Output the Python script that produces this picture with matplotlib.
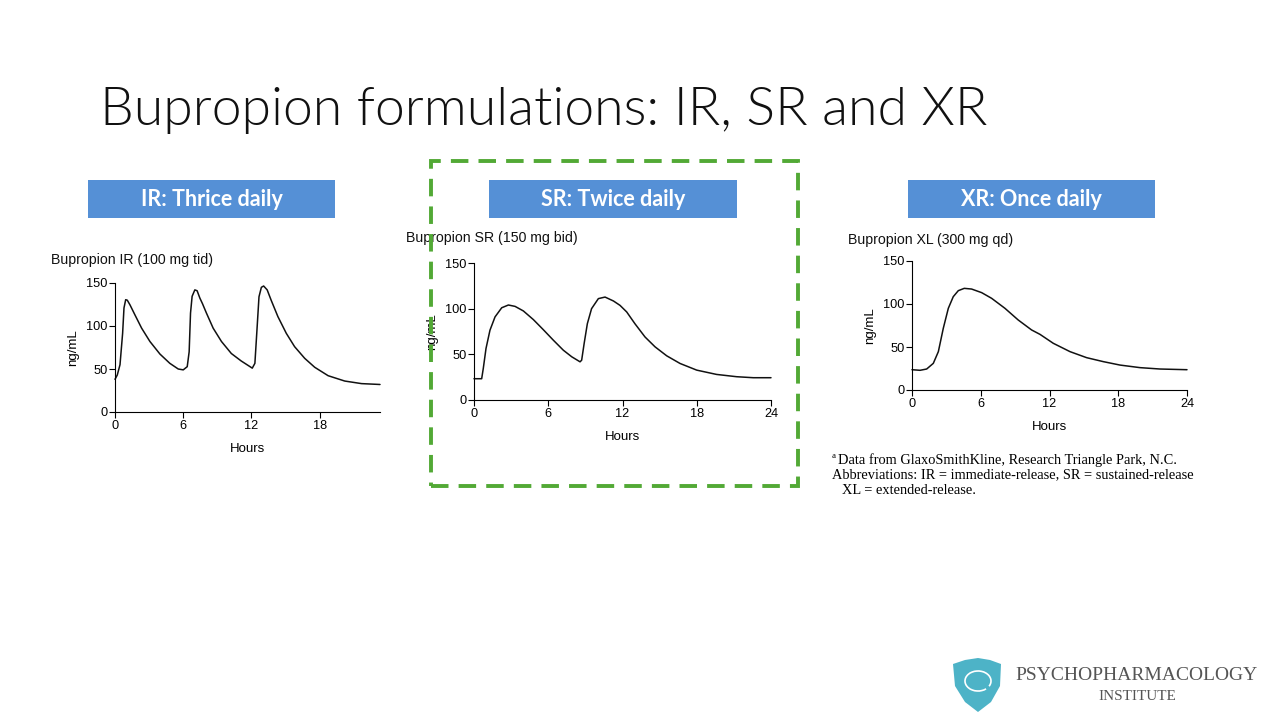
import matplotlib
matplotlib.use("Agg")
import matplotlib.pyplot as plt
from matplotlib.patches import Rectangle, Polygon, Arc

# Curvas de concentración (horas, ng/mL)
ir_hours = [0, 0.2, 0.44, 0.67, 0.79, 0.94, 1.08, 1.32, 1.75, 2.34, 3.07, 3.95, 4.82, 5.56,
            6.0, 6.35, 6.52, 6.64, 6.78, 7.02, 7.22, 7.46, 7.69, 8.04, 8.63, 9.36, 10.23,
            11.1, 11.78, 12.07, 12.3, 12.48, 12.66, 12.87, 13.07, 13.38, 13.73, 14.32,
            15.06, 15.79, 16.68, 17.56, 18.74, 20.2, 21.68, 23.3]
ir_conc = [38, 43, 55, 91.5, 121, 130.6, 130, 124.5, 113, 97.5, 82, 67.4, 56.6, 50,
           49, 52.7, 70, 115, 134.5, 142, 141, 132.5, 126, 115, 97.5, 82, 68,
           59.3, 53.5, 51, 56.6, 95, 134, 145, 146.5, 142, 130, 111,
           91.5, 76, 62.4, 52, 42.2, 36, 33, 32]

sr_hours = [0, 0.62, 0.75, 0.97, 1.29, 1.7, 2.24, 2.78, 3.32, 3.99, 4.8, 5.6, 6.41, 7.22,
            7.9, 8.57, 8.7, 8.9, 9.16, 9.5, 10.05, 10.59, 11.27, 11.8, 12.34, 13.0,
            13.82, 14.63, 15.57, 16.65, 18.0, 19.6, 21.22, 22.57, 24.0]
sr_conc = [23.3, 23.3, 34.5, 56.4, 76.4, 91, 101, 104, 102.5, 97.5, 88, 77, 65.5, 54.5,
           47.3, 41.8, 43.6, 61.8, 83.6, 100, 111, 112.7, 108.4, 103.6, 96.4, 83.6,
           69, 58.2, 48.4, 40, 32.7, 28, 25.5, 24.4, 24.4]

xl_hours = [0, 0.7, 1.28, 1.86, 2.3, 2.73, 3.17, 3.6, 4.04, 4.56, 5.2, 6.08, 6.95, 8.11,
            9.27, 10.44, 11.17, 12.33, 13.79, 15.24, 16.69, 18.15, 19.9, 21.64, 24.0]
xl_conc = [23.6, 22.9, 24.4, 31, 44.6, 71.7, 95, 108.5, 115.5, 118.2, 117.4, 113.2, 106.6, 95,
           81.4, 69.8, 64.7, 54.3, 44.6, 37.6, 33, 29, 26, 24.4, 23.6]

x_ticks = [0, 6, 12, 18, 24]
y_ticks = [0, 50, 100, 150]

headers = ["IR: Thrice daily", "SR: Twice daily", "XR: Once daily"]
panel_titles = ["Bupropion IR (100 mg tid)", "Bupropion SR (150 mg bid)", "Bupropion XL (300 mg qd)"]

W, H = 1280, 720
BLUE = "#5590D6"
GREEN = "#52A935"

fig = plt.figure(figsize=(W / 100, H / 100), dpi=100)
fig.patch.set_facecolor("white")


def fx(x):
    return x / W


def fy(y):
    return 1 - y / H


# Título de la diapositiva
fig.text(fx(100), fy(110), "Bupropion formulations: IR, SR and XR", fontsize=38.5,
         family="Lato", fontweight=300, va="center", ha="left", color="#111111")

# Cajas azules de encabezado
for (x0, x1), label in zip([(88, 335), (489, 737), (908, 1155)], headers):
    fig.patches.append(Rectangle((fx(x0), fy(218)), fx(x1 - x0), (218 - 180) / H,
                                 transform=fig.transFigure, facecolor=BLUE, edgecolor="none"))
    fig.text(fx((x0 + x1) / 2), fy(200), label, color="white", fontsize=15.5,
             family="Lato", fontweight="bold", ha="center", va="center")

# Recuadro verde discontinuo alrededor de SR
fig.patches.append(Rectangle((fx(431), fy(486)), fx(798 - 431), (486 - 161) / H,
                             transform=fig.transFigure, facecolor="none", edgecolor=GREEN,
                             linewidth=2.8, linestyle=(0, (4.5, 2.6)), zorder=5))

# Paneles: (izquierda, derecha, arriba, abajo) en píxeles, xmax
panels = [
    ((115, 380, 283, 412), 23.3, ir_hours, ir_conc, (51, 260), [0, 6, 12, 18]),
    ((474, 771, 263, 400), 24, sr_hours, sr_conc, (406, 238), x_ticks),
    ((912, 1187, 261, 390), 24, xl_hours, xl_conc, (848, 240), x_ticks),
]

for (box, xmax, hrs, conc, tpos, xt), title in zip(panels, panel_titles):
    l, r, t, b = box
    ax = fig.add_axes([fx(l), fy(b), fx(r - l), (b - t) / H])
    ax.plot(hrs, conc, color="#111111", linewidth=1.1, clip_on=False,
            solid_joinstyle="round", solid_capstyle="round")
    ax.set_xlim(0, xmax)
    ax.set_ylim(0, 150)
    ax.set_xticks(xt)
    ax.set_yticks(y_ticks)
    for s in ["top", "right"]:
        ax.spines[s].set_visible(False)
    for s in ["left", "bottom"]:
        ax.spines[s].set_linewidth(0.8)
    ax.tick_params(direction="out", length=4, width=0.8, labelsize=9.2, pad=1.5)
    for lab in ax.get_xticklabels() + ax.get_yticklabels():
        lab.set_family("Liberation Sans")
    ax.set_xlabel("Hours", family="Liberation Sans", fontsize=9.5, labelpad=8)
    ax.set_ylabel("ng/mL", family="Liberation Sans", fontsize=9.5, labelpad=5)
    fig.text(fx(tpos[0]), fy(tpos[1]), title, family="Liberation Sans", fontsize=10.2,
             ha="left", va="center", color="#111111")

# Nota al pie
fig.text(fx(832), fy(456), "a", family="Liberation Serif", fontsize=6.5, ha="left", va="center")
fig.text(fx(838), fy(460), "Data from GlaxoSmithKline, Research Triangle Park, N.C.",
         family="Liberation Serif", fontsize=10.4, ha="left", va="center")
fig.text(fx(832), fy(475), "Abbreviations: IR = immediate-release, SR = sustained-release",
         family="Liberation Serif", fontsize=10.4, ha="left", va="center")
fig.text(fx(842), fy(490), "XL = extended-release.",
         family="Liberation Serif", fontsize=10.4, ha="left", va="center")

# Logotipo
shield = [(953, 664), (965, 660), (978, 658), (990, 660), (1001, 664), (1000, 686),
          (991, 702), (978, 712), (965, 702), (955, 686)]
fig.patches.append(Polygon([(fx(x), fy(y)) for x, y in shield], closed=True,
                           transform=fig.transFigure, facecolor="#4DB3C7", edgecolor="none"))
fig.patches.append(Arc((fx(978), fy(681)), fx(26), 20 / H, theta1=-40, theta2=300,
                       transform=fig.transFigure, color="white", linewidth=1.2))
fig.text(fx(1137), fy(675), "PSYCHOPHARMACOLOGY", family="Liberation Serif", fontsize=14,
         color="#555555", ha="center", va="center")
fig.text(fx(1137), fy(696), "INSTITUTE", family="Liberation Serif", fontsize=11,
         color="#555555", ha="center", va="center")

fig.savefig("out.png", dpi=100)
